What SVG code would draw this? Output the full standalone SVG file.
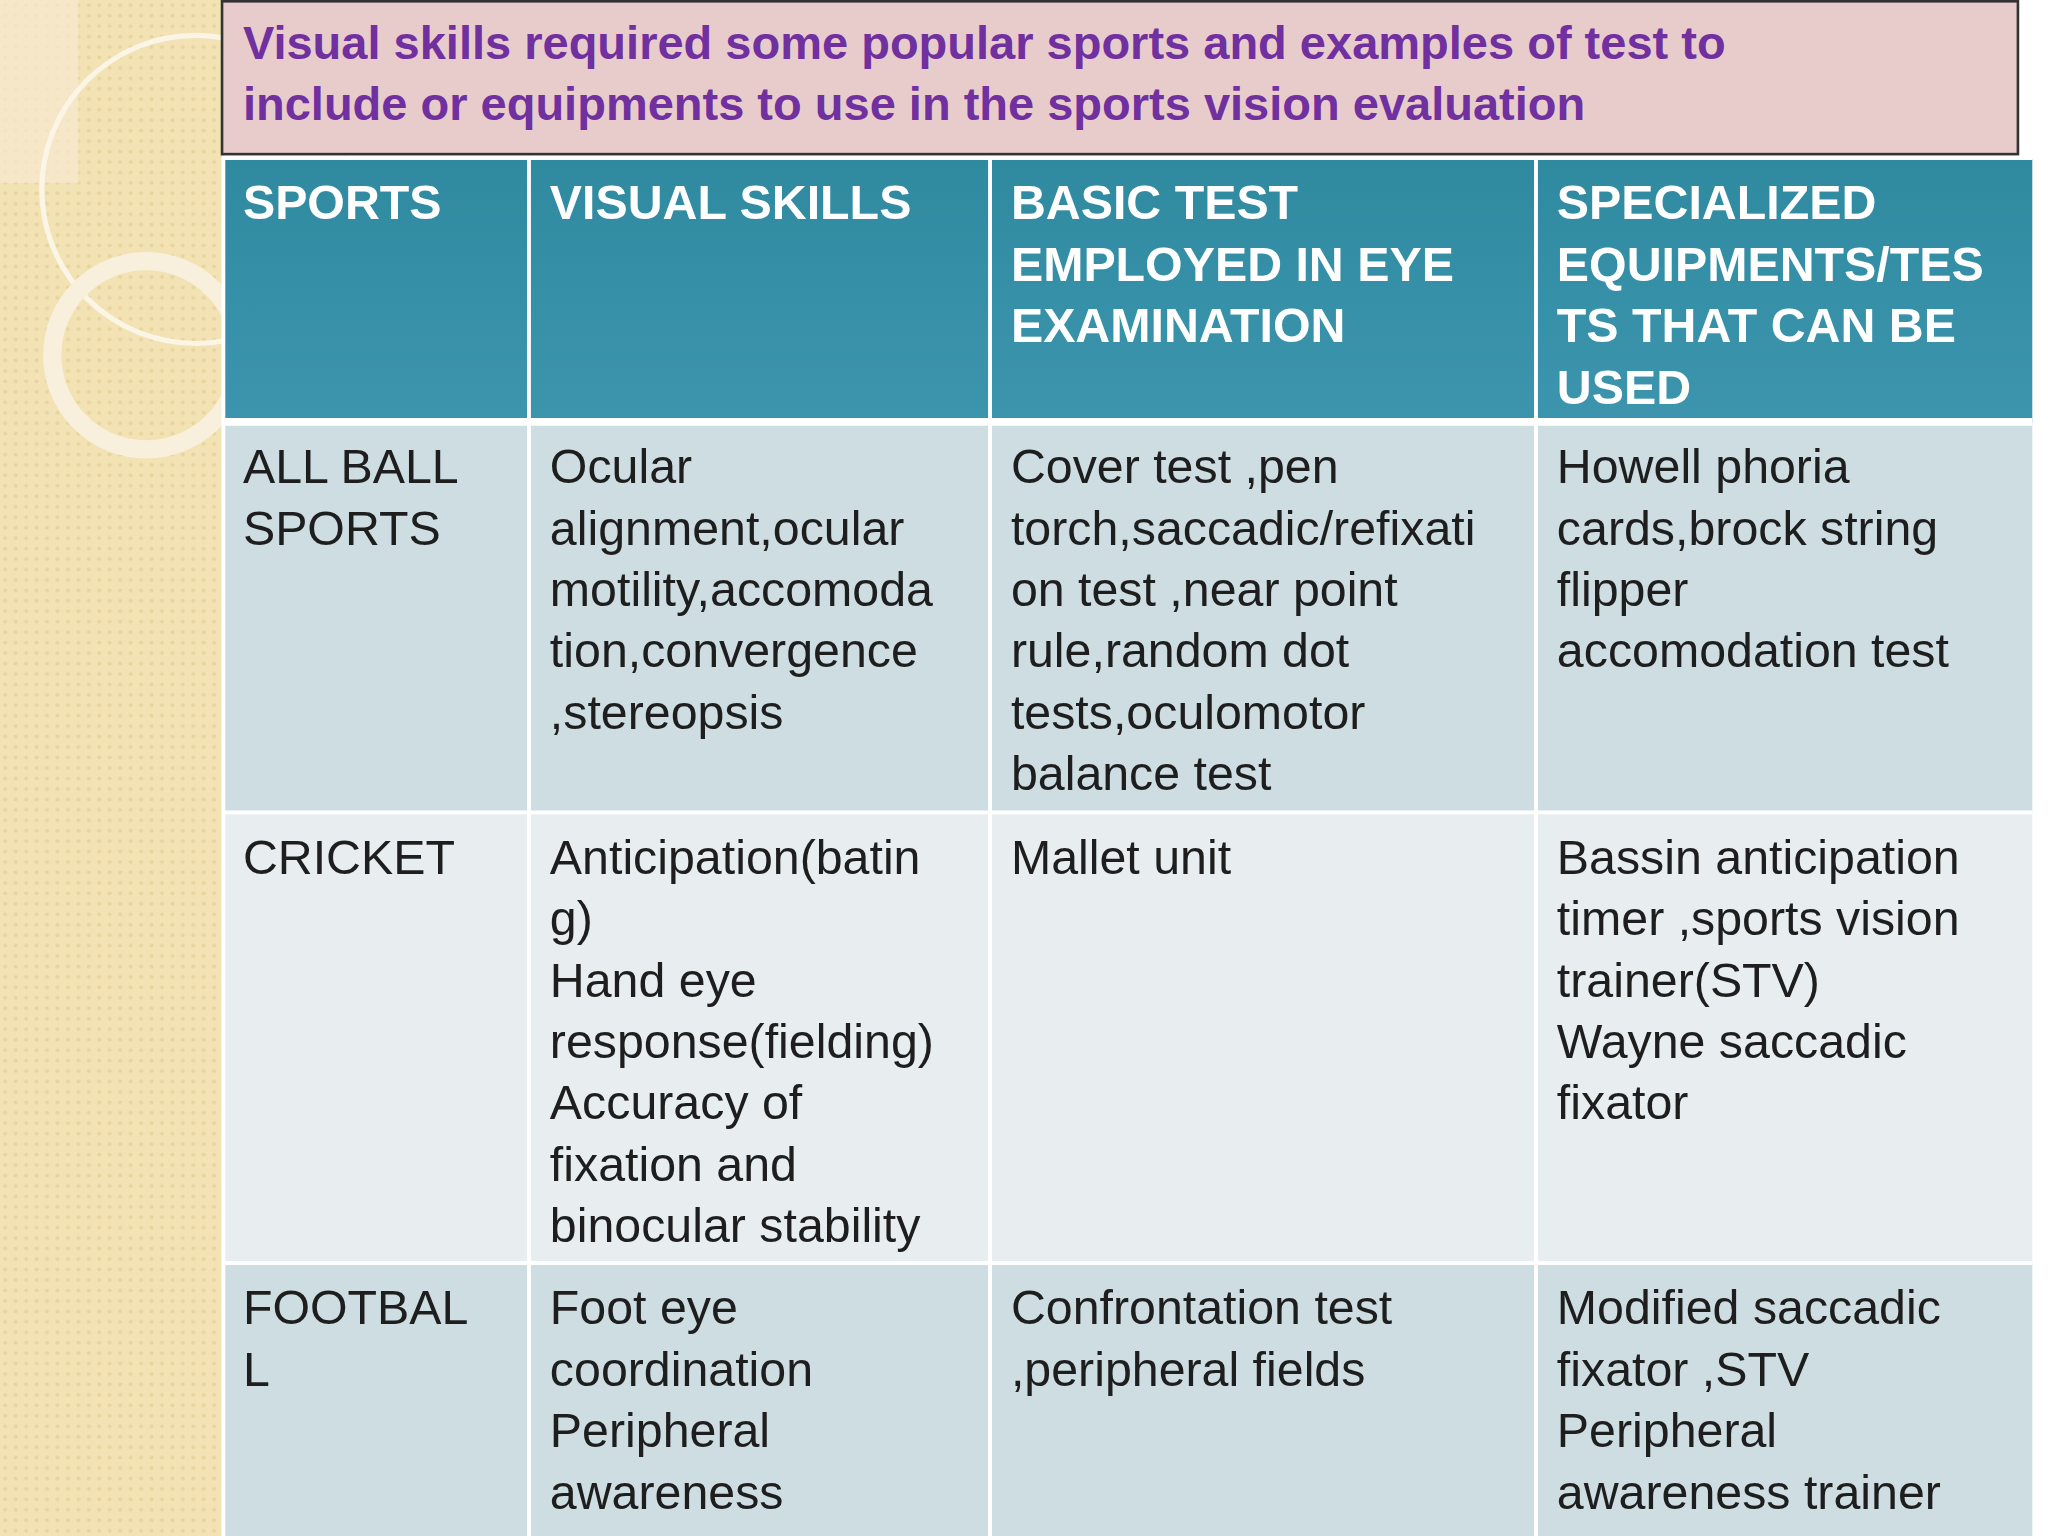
<svg xmlns="http://www.w3.org/2000/svg" width="2048" height="1536" viewBox="0 0 2048 1536">
<defs>
<style>
.t{font-family:"Liberation Sans",Arial,sans-serif;font-size:37px;fill:#1e1e1e}
.h{font-family:"Liberation Sans",Arial,sans-serif;font-size:37px;font-weight:bold;fill:#ffffff}
.ti{font-family:"Liberation Sans",Arial,sans-serif;font-size:36px;font-weight:bold;fill:#7030a0}
.g{stroke:#ffffff;stroke-width:3}
</style>
<linearGradient id="hg" x1="0" y1="0" x2="0" y2="1"><stop offset="0" stop-color="#2f8aa0"/><stop offset="1" stop-color="#3c95ad"/></linearGradient>
<pattern id="bp" width="8" height="8" patternUnits="userSpaceOnUse"><rect width="8" height="8" fill="#f2e2b4"/><circle cx="4" cy="4" r="1.5" fill="#e8d49e"/></pattern>
</defs>
<rect width="2048" height="1536" fill="#ffffff"/>
<g transform="scale(1.3061)">
<rect x="0" y="0" width="172" height="1176" fill="url(#bp)"/>
<rect x="0" y="0" width="60" height="140" fill="#f6ead0" opacity="0.7"/>
<circle cx="150" cy="145" r="118" fill="none" stroke="#fbf5e6" stroke-width="4"/>
<circle cx="112" cy="272" r="72" fill="none" stroke="#f8f0dc" stroke-width="14"/>
<g id="title">
<rect x="170" y="1" width="1375" height="117" fill="#e8cccb" stroke="#333" stroke-width="2"/>
<text class="ti" x="186" y="45">Visual skills required some popular sports and examples of test to</text>
<text class="ti" x="186" y="92">include or equipments to use in the sports vision evaluation</text>
</g>
<g id="table">
<rect x="170" y="122" width="1386" height="201" fill="url(#hg)"/>
<rect x="170" y="323" width="1386" height="299" fill="#cddde2"/>
<rect x="170" y="622" width="1386" height="345" fill="#e8eef0"/>
<rect x="170" y="967" width="1386" height="209" fill="#cddde2"/>
<g class="g">
<line x1="170" y1="323" x2="1556" y2="323" stroke-width="6"/>
<line x1="170" y1="622" x2="1556" y2="622"/>
<line x1="170" y1="967" x2="1556" y2="967"/>
<line x1="170" y1="121" x2="1556" y2="121"/>
<line x1="171" y1="120" x2="171" y2="1176"/>
<line x1="405" y1="120" x2="405" y2="1176"/>
<line x1="758" y1="120" x2="758" y2="1176"/>
<line x1="1176" y1="120" x2="1176" y2="1176"/>
</g>
<text class="h" x="186" y="168">SPORTS</text>
<text class="h" x="421" y="168">VISUAL SKILLS</text>
<text class="h" x="774"><tspan x="774" y="168">BASIC TEST</tspan><tspan x="774" y="215">EMPLOYED IN EYE</tspan><tspan x="774" y="262">EXAMINATION</tspan></text>
<text class="h"><tspan x="1192" y="168">SPECIALIZED</tspan><tspan x="1192" y="215">EQUIPMENTS/TES</tspan><tspan x="1192" y="262">TS THAT CAN BE</tspan><tspan x="1192" y="309">USED</tspan></text>
<text class="t"><tspan x="186" y="370">ALL BALL</tspan><tspan x="186" y="417">SPORTS</tspan></text>
<text class="t"><tspan x="421" y="370">Ocular</tspan><tspan x="421" y="417">alignment,ocular</tspan><tspan x="421" y="464">motility,accomoda</tspan><tspan x="421" y="511">tion,convergence</tspan><tspan x="421" y="558">,stereopsis</tspan></text>
<text class="t"><tspan x="774" y="370">Cover test ,pen</tspan><tspan x="774" y="417">torch,saccadic/refixati</tspan><tspan x="774" y="464">on test ,near point</tspan><tspan x="774" y="511">rule,random dot</tspan><tspan x="774" y="558">tests,oculomotor</tspan><tspan x="774" y="605">balance test</tspan></text>
<text class="t"><tspan x="1192" y="370">Howell phoria</tspan><tspan x="1192" y="417">cards,brock string</tspan><tspan x="1192" y="464">flipper</tspan><tspan x="1192" y="511">accomodation test</tspan></text>
<text class="t" x="186" y="669">CRICKET</text>
<text class="t"><tspan x="421" y="669">Anticipation(batin</tspan><tspan x="421" y="716">g)</tspan><tspan x="421" y="763">Hand eye</tspan><tspan x="421" y="810">response(fielding)</tspan><tspan x="421" y="857">Accuracy of</tspan><tspan x="421" y="904">fixation and</tspan><tspan x="421" y="951">binocular stability</tspan></text>
<text class="t" x="774" y="669">Mallet unit</text>
<text class="t"><tspan x="1192" y="669">Bassin anticipation</tspan><tspan x="1192" y="716">timer ,sports vision</tspan><tspan x="1192" y="763">trainer(STV)</tspan><tspan x="1192" y="810">Wayne saccadic</tspan><tspan x="1192" y="857">fixator</tspan></text>
<text class="t"><tspan x="186" y="1014">FOOTBAL</tspan><tspan x="186" y="1061">L</tspan></text>
<text class="t"><tspan x="421" y="1014">Foot eye</tspan><tspan x="421" y="1061">coordination</tspan><tspan x="421" y="1108">Peripheral</tspan><tspan x="421" y="1155">awareness</tspan></text>
<text class="t"><tspan x="774" y="1014">Confrontation test</tspan><tspan x="774" y="1061">,peripheral fields</tspan></text>
<text class="t"><tspan x="1192" y="1014">Modified saccadic</tspan><tspan x="1192" y="1061">fixator ,STV</tspan><tspan x="1192" y="1108">Peripheral</tspan><tspan x="1192" y="1155">awareness trainer</tspan></text>
</g>
</g>
</svg>
